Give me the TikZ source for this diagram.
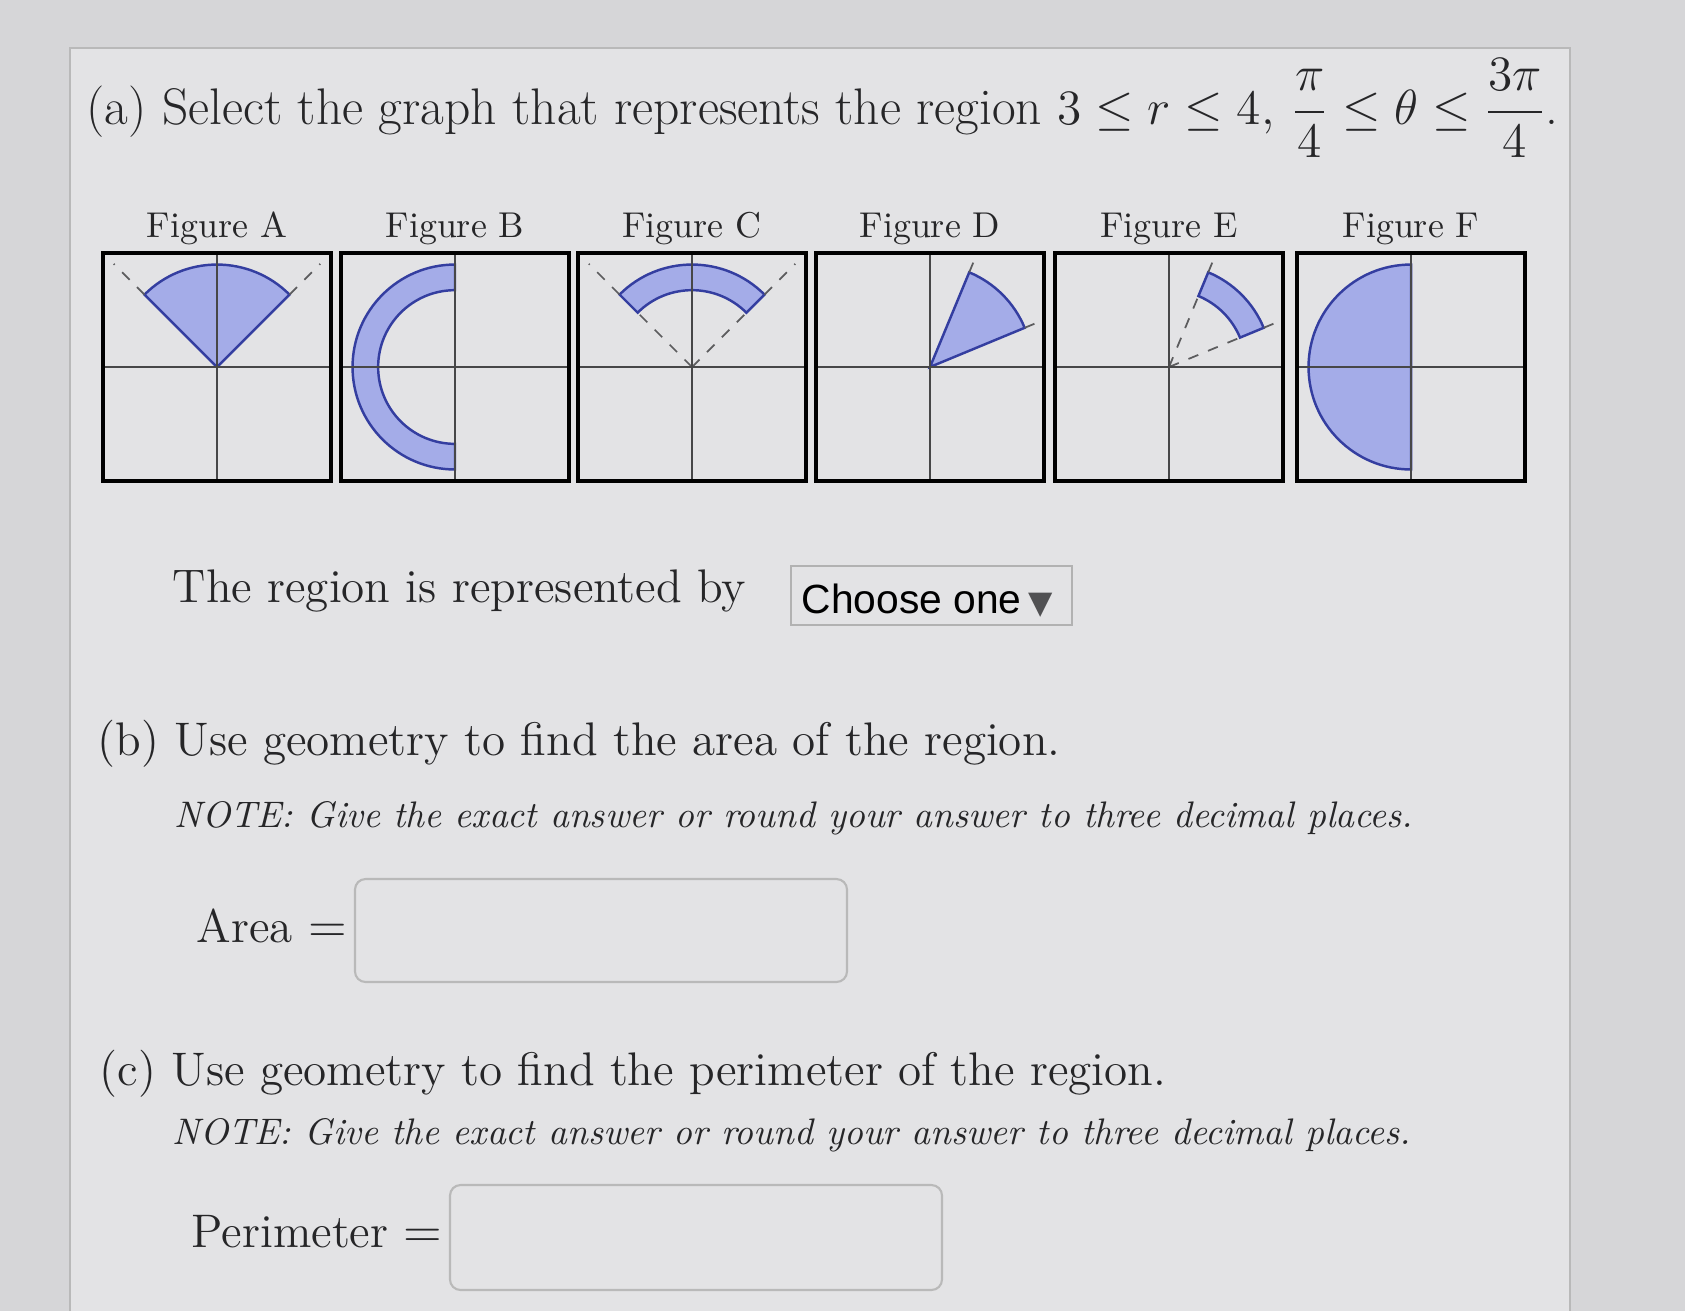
\documentclass[tikz,border=0pt]{standalone}
\usepackage{amsmath}
\usepackage{amssymb}
\usepackage{fontspec}
\usepackage{tikz}
\newfontfamily\uifont{Liberation Sans}
\newfontfamily\symfont{DejaVu Sans}
\newcommand{\hda}{\fontsize{15}{18}\selectfont}
\newcommand{\hd}{\fontsize{13.4}{16}\selectfont}
\newcommand{\nt}{\fontsize{10.5}{13}\selectfont\itshape}
\newcommand{\fg}{\fontsize{10.2}{12}\selectfont}
\usetikzlibrary{positioning}
\definecolor{pagegray}{RGB}{214,214,216}
\definecolor{panelgray}{RGB}{227,227,229}
\definecolor{ink}{RGB}{38,38,40}
\definecolor{regionfill}{RGB}{164,172,232}
\definecolor{regionline}{RGB}{52,62,160}

\begin{document}
\begin{tikzpicture}[x=0.01cm,y=-0.01cm,
  every node/.style={text=ink,inner sep=0pt},
  figbox/.style={draw=black,line width=1.3pt},
  axis/.style={draw=ink!85,line width=0.45pt},
  region/.style={fill=regionfill,draw=regionline,line width=0.7pt},
  ray/.style={draw=ink!75,dashed,line width=0.5pt},
  polar/.style={shift={(#1)},x=0.256cm,y=0.256cm},
  ansbox/.style={draw=gray!55,line width=0.6pt,rounded corners=3pt}]
\fill[pagegray] (0,0) rectangle (1685,1311);
\useasboundingbox (0,0) rectangle (1685,1311);
\fill[panelgray] (70,48) rectangle (1570,1311);
\draw[gray!55,line width=0.5pt] (70,1311) -- (70,48) -- (1570,48) -- (1570,1311);

% question (a)
\node[anchor=base west,font=\hda,scale=0.976] (parta) at (86,124)
  {(a) Select the graph that represents the region $3\leq r\leq 4,\,\dfrac{\pi}{4}\leq\theta\leq\dfrac{3\pi}{4}$.};

\foreach \n/\cx in {A/217,B/455,C/692,D/930,E/1169,F/1411}
  \coordinate (o\n) at (\cx,367);

% the six regions
\begin{scope}[polar=oA]
\clip (-4.45,-4.45) rectangle (4.45,4.45);
\filldraw[region] (0,0) -- (45:4) arc[start angle=45,end angle=135,radius=4] -- cycle;
\draw[ray] (45:4) -- (45:5.7) (135:4) -- (135:5.7);
\end{scope}
\begin{scope}[polar=oB]
\filldraw[region] (90:4) arc[start angle=90,end angle=270,radius=4] -- (270:3)
  arc[start angle=270,end angle=90,radius=3] -- cycle;
\end{scope}
\begin{scope}[polar=oC]
\clip (-4.45,-4.45) rectangle (4.45,4.45);
\filldraw[region] (45:3) -- (45:4) arc[start angle=45,end angle=135,radius=4] -- (135:3)
  arc[start angle=135,end angle=45,radius=3] -- cycle;
\draw[ray] (0,0) -- (45:3) (45:4) -- (45:5.7) (0,0) -- (135:3) (135:4) -- (135:5.7);
\end{scope}
\begin{scope}[polar=oD]
\clip (-4.45,-4.45) rectangle (4.45,4.45);
\filldraw[region] (0,0) -- (22.5:4) arc[start angle=22.5,end angle=67.5,radius=4] -- cycle;
\draw[ray] (22.5:4) -- (22.5:5.7) (67.5:4) -- (67.5:5.7);
\end{scope}
\begin{scope}[polar=oE]
\clip (-4.45,-4.45) rectangle (4.45,4.45);
\filldraw[region] (22.5:3) -- (22.5:4) arc[start angle=22.5,end angle=67.5,radius=4] -- (67.5:3)
  arc[start angle=67.5,end angle=22.5,radius=3] -- cycle;
\draw[ray] (0,0) -- (22.5:3) (22.5:4) -- (22.5:5.7) (0,0) -- (67.5:3) (67.5:4) -- (67.5:5.7);
\end{scope}
\begin{scope}[polar=oF]
\filldraw[region] (90:4) arc[start angle=90,end angle=270,radius=4] -- cycle;
\end{scope}

% axes, frames, captions
\foreach \n/\cx in {A/217,B/455,C/692,D/930,E/1169,F/1411}{
  \draw[axis] (\cx-114,367) -- (\cx+114,367) (\cx,253) -- (\cx,481);
  \draw[figbox] (\cx-114,253) rectangle (\cx+114,481);
  \node[anchor=base,font=\fg] (lab\n) at (\cx,237) {Figure \n};
}

\node[anchor=base west,font=\hd] (regiontxt) at (172,602) {The region is represented by};
\draw[draw=gray!60,line width=0.6pt] (791,566) rectangle (1072,625);
\node[anchor=base west,font=\uifont\fontsize{11.6}{14}\selectfont,text=black] (choose) at (801,613)
  {Choose one\,{\symfont\fontsize{9}{11}\selectfont\textcolor{ink!80}{▼}}};

% question (b)
\node[anchor=base west,font=\hd] (partb) at (97,755) {(b) Use geometry to find the area of the region.};
\node[anchor=base west,font=\nt] (noteb) at (174,827)
  {NOTE: Give the exact answer or round your answer to three decimal places.};
\node[anchor=base west,font=\hd] (arealbl) at (196,942) {Area $=$};
\draw[ansbox] (355,879) rectangle (847,982);

% question (c)
\node[anchor=base west,font=\hd] (partc) at (99,1085) {(c) Use geometry to find the perimeter of the region.};
\node[anchor=base west,font=\nt] (notec) at (172,1144)
  {NOTE: Give the exact answer or round your answer to three decimal places.};
\node[anchor=base west,font=\hd] (perimlbl) at (191,1247) {Perimeter $=$};
\draw[ansbox] (450,1185) rectangle (942,1290);
\end{tikzpicture}
\end{document}
